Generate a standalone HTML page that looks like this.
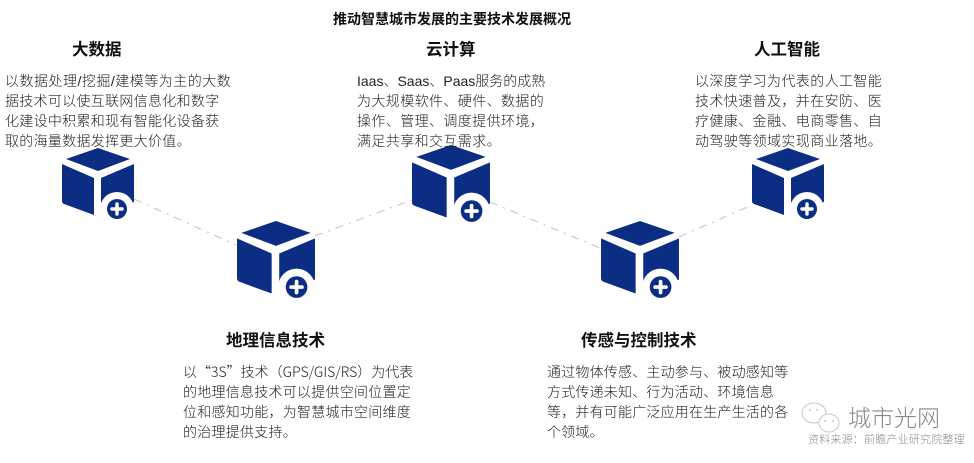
<!DOCTYPE html>
<html lang="zh"><head><meta charset="utf-8"><style>
html,body{margin:0;padding:0;background:#fff}
#p{position:relative;width:974px;height:463px;overflow:hidden;background:#fff;font-family:"Liberation Sans","Noto Sans CJK SC",sans-serif}
#p svg{position:absolute;left:0;top:0}
.t,.h,.l{position:absolute;white-space:nowrap}
.t{font-weight:700;font-size:14px;line-height:20px;color:#111;left:333px;top:9px}
.h{font-weight:700;font-size:16.5px;line-height:24px;color:#111}
.l{font-size:14px;line-height:20px;color:#222;font-weight:300}
</style></head><body><div id="p">
<svg width="974" height="463" viewBox="0 0 974 463">
<defs><g id="c">
<path d="M36 0L68 11L36 23L4 11Z" fill="#0b2d83"/>
<path d="M0 16L32 30V67L2 56Q0 55 0 53Z" fill="#0b2d83"/>
<path d="M39 30L72 16V54L39 67Z" fill="#0b2d83"/>
<circle cx="55" cy="61" r="17" fill="#fff"/>
<circle cx="55" cy="61" r="10" fill="#0b2d83"/>
<path d="M55 56V66M50 61H60" stroke="#fff" stroke-width="3.4" stroke-linecap="round"/>
</g></defs>
<g stroke="#cbcbcf" stroke-width="1.2" stroke-dasharray="8 6 2 6" fill="none">
<line x1="134" y1="199" x2="236" y2="245"/>
<line x1="315" y1="236" x2="412" y2="200"/>
<line x1="490" y1="202" x2="600" y2="248"/>
<line x1="679" y1="237" x2="752" y2="205"/>
</g>
<use href="#c" transform="translate(62 148)"/>
<use href="#c" transform="translate(237 221) scale(1.083)"/>
<use href="#c" transform="translate(412 145) scale(1.083)"/>
<use href="#c" transform="translate(601 221) scale(1.083)"/>
<use href="#c" transform="translate(752 148)"/>
<g fill="#fff" stroke="#c8c8c8" stroke-width="1">
<ellipse cx="814" cy="413" rx="12" ry="10"/>
<ellipse cx="829" cy="423" rx="10" ry="9"/>
</g>
<g fill="#c8c8c8">
<circle cx="810" cy="410" r="1"/><circle cx="817" cy="410" r="1"/>
<circle cx="825" cy="421" r="1"/><circle cx="833" cy="421" r="1"/>
</g>
</svg>
<div class="t">推动智慧城市发展的主要技术发展概况</div>
<div class="h" style="left:72px;top:38px">大数据</div>
<div class="h" style="left:426px;top:38px">云计算</div>
<div class="h" style="left:754px;top:38px">人工智能</div>
<div class="h" style="left:226px;top:329px">地理信息技术</div>
<div class="h" style="left:581px;top:329px">传感与控制技术</div>
<div class="l" style="left:5px;top:71px;letter-spacing:.5px">以数据处理/挖掘/建模等为主的大数</div>
<div class="l" style="left:5px;top:91px;letter-spacing:.3px">据技术可以使互联网信息化和数字</div>
<div class="l" style="left:5px;top:111px;letter-spacing:.3px">化建设中积累和现有智能化设备获</div>
<div class="l" style="left:5px;top:131px;letter-spacing:.3px">取的海量数据发挥更大价值。</div>
<div class="l" style="left:357px;top:71px">Iaas、Saas、Paas服务的成熟</div>
<div class="l" style="left:357px;top:91px;letter-spacing:.4px">为大规模软件、硬件、数据的</div>
<div class="l" style="left:357px;top:111px;letter-spacing:.4px">操作、管理、调度提供环境，</div>
<div class="l" style="left:357px;top:131px;letter-spacing:.4px">满足共享和交互需求。</div>
<div class="l" style="left:695px;top:71px;letter-spacing:.4px">以深度学习为代表的人工智能</div>
<div class="l" style="left:695px;top:91px;letter-spacing:.4px">技术快速普及，并在安防、医</div>
<div class="l" style="left:695px;top:111px;letter-spacing:.4px">疗健康、金融、电商零售、自</div>
<div class="l" style="left:695px;top:131px;letter-spacing:.4px">动驾驶等领域实现商业落地。</div>
<div class="l" style="left:183px;top:362px;font-family:'Noto Sans CJK SC',sans-serif">以“3S”技术（GPS/GIS/RS）为代表</div>
<div class="l" style="left:183px;top:382px;letter-spacing:.25px">的地理信息技术可以提供空间位置定</div>
<div class="l" style="left:183px;top:402px;letter-spacing:.25px">位和感知功能，为智慧城市空间维度</div>
<div class="l" style="left:183px;top:422px;letter-spacing:.25px">的治理提供支持。</div>
<div class="l" style="left:547px;top:362px;letter-spacing:.2px">通过物体传感、主动参与、被动感知等</div>
<div class="l" style="left:547px;top:382px;letter-spacing:.2px">方式传递未知、行为活动、环境信息</div>
<div class="l" style="left:547px;top:402px;letter-spacing:.2px">等，并有可能广泛应用在生产生活的各</div>
<div class="l" style="left:547px;top:422px;letter-spacing:.2px">个领域。</div>
<div class="l" style="left:848px;top:405px;font-size:23px;line-height:26px;color:#888;font-weight:300">城市光网</div>
<div class="l" style="left:808px;top:432px;font-size:11px;line-height:16px;color:#888;letter-spacing:.2px">资料来源：前瞻产业研究院整理</div>
</div></body></html>
